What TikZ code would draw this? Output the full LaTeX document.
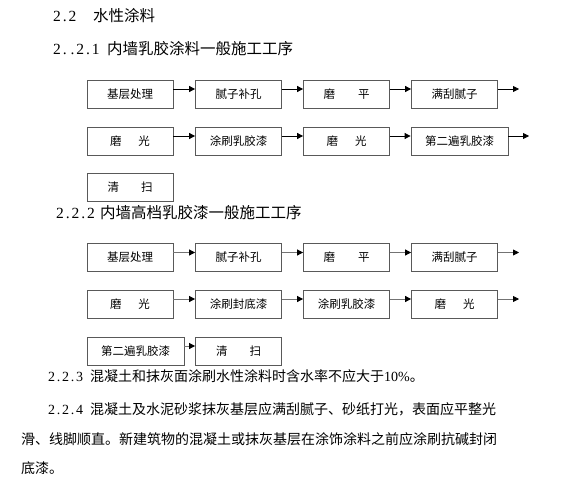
\documentclass[tikz,border=0pt]{standalone}
\usepackage{fontspec}
\setmainfont{Noto Sans CJK SC}
\newfontfamily\numfont{Liberation Serif}
\newcommand\hwc[1]{\makebox[0.5em][c]{\numfont #1}}
\newcommand\hwnum[1]{\hwloop#1\relax}
\def\hwloop#1{\ifx#1\relax\else\hwc{#1}\expandafter\hwloop\fi}
\usetikzlibrary{arrows.meta}
\begin{document}
\begin{tikzpicture}[x=1pt,y=-1pt,
  stepbox/.style={draw=black!65,line width=0.8pt,minimum width=86pt,minimum height=28pt,inner sep=0pt,font=\fontsize{11.5}{12}\selectfont},
  widebox/.style={stepbox,minimum width=97pt},
  arr/.style={-{Triangle[length=6pt,width=6pt]},line width=0.8pt,draw=black},
  arrg/.style={-{Triangle[length=6pt,width=6pt,color=black]},line width=0.8pt,draw=black!55},
  title/.style={anchor=west,inner sep=0pt,font=\fontsize{15.5}{16}\selectfont},
  para/.style={anchor=west,inner sep=0pt,font=\fontsize{14}{15}\selectfont}]
\useasboundingbox[fill=white] (0,0) rectangle (588,492);
% titles
\node[title] (t1) at (53,16) {\makebox[40pt][l]{\hwnum{2.2}}水性涂料};
\node[title] (t2) at (53,49) {\makebox[54pt][l]{\hwnum{2..2.1}}内墙乳胶涂料一般施工工序};
% section 1
\node[stepbox] (a1) at (130,94) {基层处理};
\node[stepbox] (a2) at (238.5,94) {腻子补孔};
\node[stepbox] (a3) at (346.5,94) {磨\hspace{23pt}平};
\node[stepbox] (a4) at (454.5,94) {满刮腻子};
\coordinate (ae) at (519,89);
\node[stepbox] (b1) at (130,141) {磨\hspace{17pt}光};
\node[stepbox] (b2) at (238.5,141) {涂刷乳胶漆};
\node[stepbox] (b3) at (346.5,141) {磨\hspace{17pt}光};
\node[widebox] (b4) at (459.5,141) {第二遍乳胶漆};
\coordinate (be) at (529,136);
\node[stepbox] (c1) at (130,187.5) {清\hspace{22pt}扫};
\foreach \u/\v in {a1/a2,a2/a3,a3/a4,b1/b2,b2/b3,b3/b4}
  \draw[arr] ([yshift=5pt]\u.east) -- ([yshift=5pt]\v.west);
\draw[arr] ([yshift=5pt]a4.east) -- (ae);
\draw[arr] ([yshift=5pt]b4.east) -- (be);
% section 2
\node[title] (t3) at (56,213) {\makebox[44pt][l]{\hwnum{2.2.2}}内墙高档乳胶漆一般施工工序};
\node[stepbox] (d1) at (130,257.5) {基层处理};
\node[stepbox] (d2) at (238.5,257.5) {腻子补孔};
\node[stepbox] (d3) at (346.5,257.5) {磨\hspace{23pt}平};
\node[stepbox] (d4) at (454.5,257.5) {满刮腻子};
\coordinate (de) at (519,252.5);
\node[stepbox] (e1) at (130,304) {磨\hspace{17pt}光};
\node[stepbox] (e2) at (238.5,304) {涂刷封底漆};
\node[stepbox] (e3) at (346.5,304) {涂刷乳胶漆};
\node[stepbox] (e4) at (454.5,304) {磨\hspace{17pt}光};
\coordinate (ee) at (519,299);
\node[widebox] (f1) at (135.5,351) {第二遍乳胶漆};
\node[stepbox] (f2) at (238.5,351) {清\hspace{22pt}扫};
\foreach \u/\v in {d1/d2,d2/d3,d3/d4,e1/e2,e2/e3,e3/e4,f1/f2}
  \draw[arrg] ([yshift=5pt]\u.east) -- ([yshift=5pt]\v.west);
\draw[arrg] ([yshift=5pt]d4.east) -- (de);
\draw[arrg] ([yshift=5pt]e4.east) -- (ee);
% paragraphs
\node[para] (p1) at (48,376) {\makebox[42pt][l]{\hwnum{2.2.3}}混凝土和抹灰面涂刷水性涂料时含水率不应大于\hwnum{10}{\numfont\%}。};
\node[para] (p2) at (48,409) {\makebox[42pt][l]{\hwnum{2.2.4}}混凝土及水泥砂浆抹灰基层应满刮腻子、砂纸打光，表面应平整光};
\node[para] (p3) at (21,439) {滑、线脚顺直。新建筑物的混凝土或抹灰基层在涂饰涂料之前应涂刷抗碱封闭};
\node[para] (p4) at (21,468) {底漆。};
\end{tikzpicture}
\end{document}
